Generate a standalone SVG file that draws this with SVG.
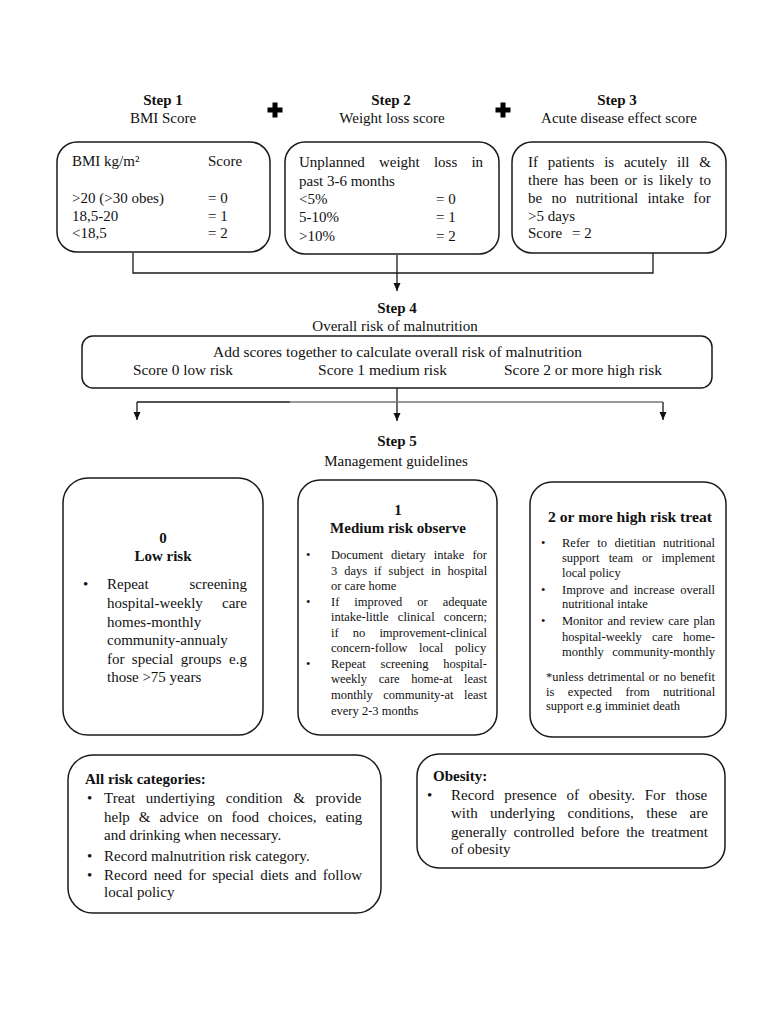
<svg xmlns="http://www.w3.org/2000/svg" width="768" height="1024" viewBox="0 0 768 1024">
<defs>
<style>
.t{font-family:"Liberation Serif","Times New Roman",serif;font-size:15px;fill:#111}
.b{font-weight:bold}
.c{text-anchor:middle}
.e{text-anchor:end}
.s{font-size:12.5px}
.box{fill:#fff;stroke:#1a1a1a;stroke-width:1.5}
.ln{fill:none;stroke:#1a1a1a;stroke-width:1.3}
.plus{fill:#000}
</style>
<marker id="ar" markerUnits="userSpaceOnUse" markerWidth="8" markerHeight="8" refX="8" refY="3.5" orient="auto">
<path d="M0,0 L8,3.5 L0,7 z" fill="#111"/>
</marker>
</defs>
<rect width="768" height="1024" fill="#fff"/>

<g id="headers">
<text class="t b c" x="163" y="105">Step 1</text>
<text class="t c" x="163" y="123">BMI Score</text>
<text class="t b c" x="391" y="105">Step 2</text>
<text class="t c" x="392" y="123">Weight loss score</text>
<text class="t b c" x="617" y="105">Step 3</text>
<text class="t c" x="619" y="123">Acute disease effect score</text>
<path class="plus" d="M272.5,102.5h5v5h5v5h-5v5h-5v-5h-5v-5h5z"/>
<path class="plus" d="M500.5,102.5h5v5h5v5h-5v5h-5v-5h-5v-5h5z"/>
</g>

<g id="connectors">
<path class="ln" d="M133,253 V273 H653 V253"/>
<path class="ln" d="M397,255 V291" marker-end="url(#ar)"/>
<path class="ln" d="M397,388 V421" marker-end="url(#ar)"/>
<path class="ln" d="M137,402 H290"/>
<path d="M290,402 H663" fill="none" stroke="#777" stroke-width="1.3"/>
<path class="ln" d="M137,402 V420" marker-end="url(#ar)"/>
<path class="ln" d="M663,402 V420" marker-end="url(#ar)"/>
</g>

<g id="bmi">
<rect class="box" x="57" y="142" width="213" height="110" rx="20"/>
<text class="t" x="72" y="166">BMI kg/m²</text>
<text class="t" x="208" y="166">Score</text>
<text class="t" x="72" y="203">&gt;20 (&gt;30 obes)</text>
<text class="t" x="208" y="203">= 0</text>
<text class="t" x="72" y="221">18,5-20</text>
<text class="t" x="208" y="221">= 1</text>
<text class="t" x="72" y="238">&lt;18,5</text>
<text class="t" x="208" y="238">= 2</text>
</g>

<g id="weightloss">
<rect class="box" x="285" y="142" width="214" height="112" rx="20"/>
<text class="t" x="299" y="167" word-spacing="10.4">Unplanned weight loss in</text>
<text class="t" x="299" y="186">past 3-6 months</text>
<text class="t" x="299" y="204">&lt;5%</text>
<text class="t" x="436" y="204">= 0</text>
<text class="t" x="299" y="222">5-10%</text>
<text class="t" x="436" y="222">= 1</text>
<text class="t" x="299" y="241">&gt;10%</text>
<text class="t" x="436" y="241">= 2</text>
</g>

<g id="acute">
<rect class="box" x="512" y="142" width="214" height="111" rx="20"/>
<text class="t" x="528" y="167" word-spacing="6">If patients is acutely ill &amp;</text>
<text class="t" x="528" y="185" word-spacing="2.3">there has been or is likely to</text>
<text class="t" x="528" y="203" word-spacing="5.5">be no nutritional intake for</text>
<text class="t" x="528" y="221">&gt;5 days</text>
<text class="t" x="528" y="238">Score</text>
<text class="t" x="572" y="238">= 2</text>
</g>

<g id="step4">
<text class="t b c" x="397" y="313">Step 4</text>
<text class="t c" x="395" y="331">Overall risk of malnutrition</text>
<rect class="box" x="82" y="336" width="630" height="52" rx="11"/>
<text class="t" x="213" y="357" textLength="369" lengthAdjust="spacingAndGlyphs">Add scores together to calculate overall risk of malnutrition</text>
<text class="t" x="133" y="375" textLength="100" lengthAdjust="spacingAndGlyphs">Score 0 low risk</text>
<text class="t" x="318" y="375" textLength="129" lengthAdjust="spacingAndGlyphs">Score 1 medium risk</text>
<text class="t" x="504" y="375" textLength="158" lengthAdjust="spacingAndGlyphs">Score 2 or more high risk</text>
</g>

<g id="step5">
<text class="t b c" x="397" y="446">Step 5</text>
<text class="t c" x="396" y="466">Management guidelines</text>
</g>

<g id="lowrisk">
<rect class="box" x="63" y="478" width="200" height="257" rx="25"/>
<text class="t b c" x="163" y="543">0</text>
<text class="t b c" x="163" y="561">Low risk</text>
<text class="t" x="83" y="589">•</text>
<text class="t" x="107" y="589">Repeat</text>
<text class="t e" x="247" y="589">screening</text>
<text class="t" x="107" y="608">hospital-weekly</text>
<text class="t e" x="247" y="608">care</text>
<text class="t" x="107" y="627">homes-monthly</text>
<text class="t" x="107" y="645">community-annualy</text>
<text class="t" x="107" y="664" word-spacing="3.6">for special groups e.g</text>
<text class="t" x="107" y="682">those &gt;75 years</text>
</g>

<g id="mediumrisk">
<rect class="box" x="298" y="480" width="199" height="255" rx="22"/>
<text class="t b c" x="398" y="515">1</text>
<text class="t b c" x="398" y="533">Medium risk observe</text>
<text class="t s" x="306" y="559">•</text>
<text class="t s" x="331" y="559" word-spacing="4.9">Document dietary intake for</text>
<text class="t s" x="331" y="575" word-spacing="3.8">3 days if subject in hospital</text>
<text class="t s" x="331" y="590">or care home</text>
<text class="t s" x="306" y="606">•</text>
<text class="t s" x="331" y="606" word-spacing="11.9">If improved or adequate</text>
<text class="t s" x="331" y="621" word-spacing="6.1">intake-little clinical concern;</text>
<text class="t s" x="331" y="637" word-spacing="11">if no improvement-clinical</text>
<text class="t s" x="331" y="652" word-spacing="8.5">concern-follow local policy</text>
<text class="t s" x="306" y="668">•</text>
<text class="t s" x="331" y="668" word-spacing="11.7">Repeat screening hospital-</text>
<text class="t s" x="331" y="683" word-spacing="8.6">weekly care home-at least</text>
<text class="t s" x="331" y="699" word-spacing="7.5">monthly community-at least</text>
<text class="t s" x="331" y="715">every 2-3 months</text>
</g>

<g id="highrisk">
<rect class="box" x="530" y="482" width="196" height="255" rx="22"/>
<text class="t b" x="548" y="522" textLength="164" lengthAdjust="spacingAndGlyphs">2 or more high risk treat</text>
<text class="t s" x="541" y="547">•</text>
<text class="t s" x="562" y="547" word-spacing="4.4">Refer to dietitian nutritional</text>
<text class="t s" x="562" y="562" word-spacing="6">support team or implement</text>
<text class="t s" x="562" y="577">local policy</text>
<text class="t s" x="541" y="594">•</text>
<text class="t s" x="562" y="594" word-spacing="2.5">Improve and increase overall</text>
<text class="t s" x="562" y="608">nutritional intake</text>
<text class="t s" x="541" y="625">•</text>
<text class="t s" x="562" y="625" word-spacing="1.3">Monitor and review care plan</text>
<text class="t s" x="562" y="641" word-spacing="7.1">hospital-weekly care home-</text>
<text class="t s" x="562" y="656" word-spacing="5.4">monthly community-monthly</text>
<text class="t s" x="546" y="681" word-spacing="1.1">*unless detrimental or no benefit</text>
<text class="t s" x="546" y="696" word-spacing="10.2">is expected from nutritional</text>
<text class="t s" x="546" y="710">support e.g imminiet death</text>
</g>

<g id="allrisk">
<rect class="box" x="68" y="755" width="313" height="158" rx="25"/>
<text class="t b" x="85" y="784">All risk categories:</text>
<text class="t" x="87" y="803">•</text>
<text class="t" x="104" y="803" word-spacing="7">Treat undertiying condition &amp; provide</text>
<text class="t" x="104" y="822" word-spacing="5.2">help &amp; advice on food choices, eating</text>
<text class="t" x="104" y="840">and drinking when necessary.</text>
<text class="t" x="87" y="861">•</text>
<text class="t" x="104" y="861">Record malnutrition risk category.</text>
<text class="t" x="87" y="880">•</text>
<text class="t" x="104" y="880" word-spacing="2.6">Record need for special diets and follow</text>
<text class="t" x="104" y="897">local policy</text>
</g>

<g id="obesity">
<rect class="box" x="417" y="754" width="308" height="114" rx="22"/>
<text class="t b" x="433" y="781">Obesity:</text>
<text class="t" x="427" y="800">•</text>
<text class="t" x="451" y="800" word-spacing="6.1">Record presence of obesity. For those</text>
<text class="t" x="451" y="818" word-spacing="8.7">with underlying conditions, these are</text>
<text class="t" x="451" y="837" word-spacing="3">generally controlled before the treatment</text>
<text class="t" x="451" y="854">of obesity</text>
</g>
</svg>
